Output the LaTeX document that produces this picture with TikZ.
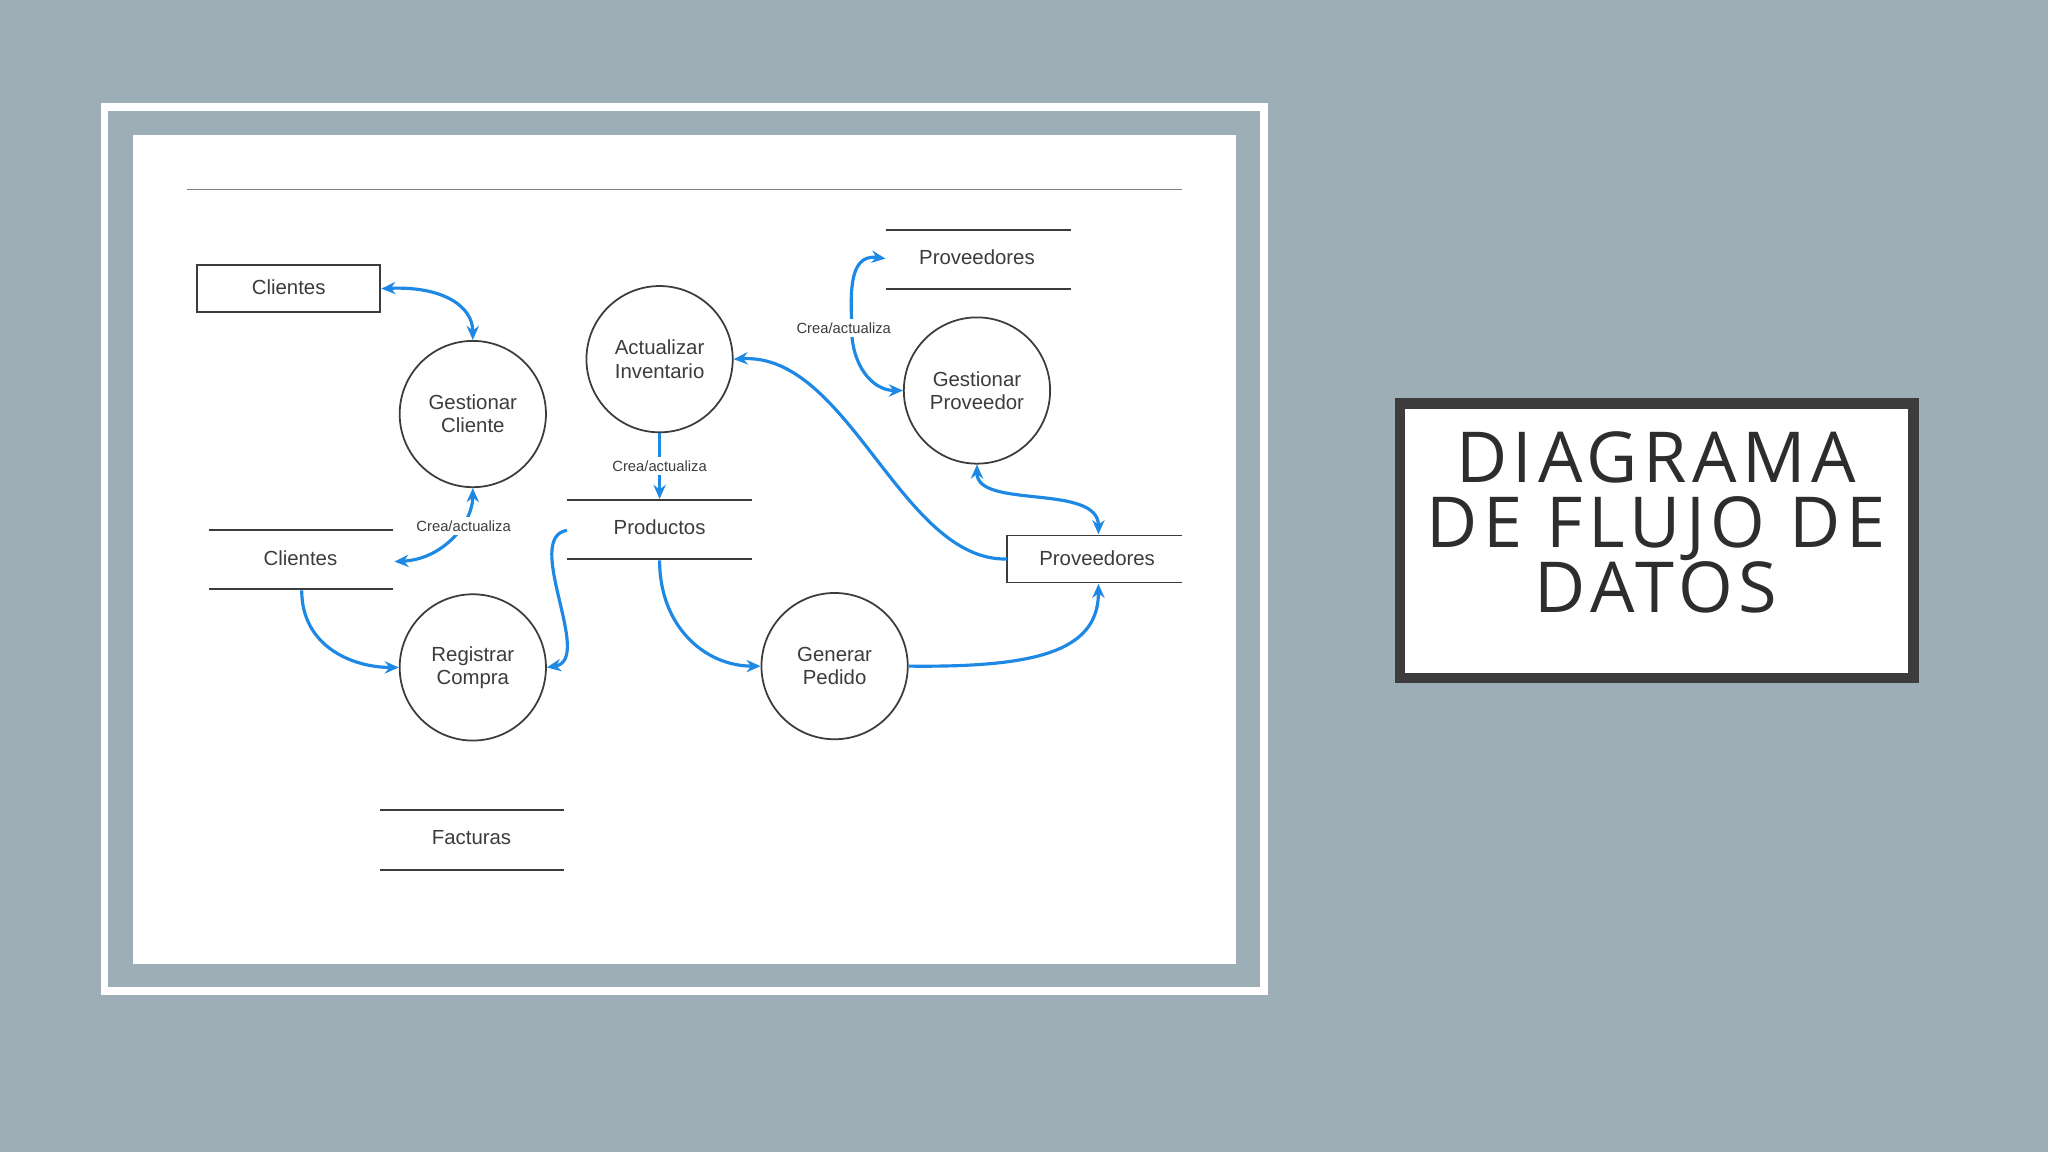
\documentclass[tikz,border=0pt]{standalone}
\usepackage{fontspec}
\setmainfont{Liberation Sans}
\newfontfamily\titlefont[LetterSpace=8]{Open Sans}
\usetikzlibrary{arrows.meta}
\definecolor{bg}{RGB}{157,174,182}
\definecolor{flow}{RGB}{30,136,229}
\definecolor{ink}{RGB}{60,60,60}
\tikzset{
 proc/.style={circle,draw=ink,line width=0.5pt,minimum size=112*0.013061cm,inner sep=0pt,align=center,font=\fontsize{5.8}{6.6}\selectfont,text=ink},
 lbl/.style={font=\fontsize{5.8}{6.6}\selectfont,text=ink},
 small/.style={font=\fontsize{4.2}{5}\selectfont,text=ink,fill=white,inner sep=1pt},
 store/.style={draw=ink,line width=0.5pt},
 fl/.style={draw=flow,line width=0.9pt,-{Stealth[length=4pt,width=3.5pt]}},
 fl2/.style={draw=flow,line width=0.9pt,{Stealth[length=4pt,width=3.5pt]}-{Stealth[length=4pt,width=3.5pt]}}
}
\begin{document}
\begin{tikzpicture}[x=0.013061cm,y=-0.013061cm]
\fill[bg] (0,0) rectangle (1568,882);
\useasboundingbox (0,0) rectangle (1568,882);
\draw[white,line width=2.2pt] (80,82) rectangle (968,759);
\fill[white] (102,103) rectangle (946,738);
\draw[gray,line width=0.5pt] (143,145) -- (905,145);
% nodes
\draw[store] (151,203) rectangle (291,239);
\node[lbl] (cbox) at (221,220) {Clientes};
\coordinate (cboxR) at (292,221);
\node[proc] (gc) at (362,317) {Gestionar\\Cliente};
\node[proc] (ai) at (505,275) {Actualizar\\Inventario};
\node[proc] (gp) at (748,299) {Gestionar\\Proveedor};
\node[proc] (rc) at (362,511) {Registrar\\Compra};
\node[proc] (gpe) at (639,510) {Generar\\Pedido};
\draw[store] (678,176) -- (820,176) (678,221) -- (820,221);
\node[lbl] (pstore) at (748,197) {Proveedores};
\draw[store] (160,406) -- (301,406) (160,451) -- (301,451);
\node[lbl] (cstore) at (230,427) {Clientes};
\draw[store] (434,383) -- (576,383) (434,428) -- (576,428);
\node[lbl] (prod) at (505,404) {Productos};
\draw[store] (291,620) -- (432,620) (291,666) -- (432,666);
\node[lbl] (fac) at (361,641) {Facturas};
\draw[store] (905,410) -- (771,410) -- (771,446) -- (905,446);
\node[lbl] (pbox) at (840,427) {Proveedores};
% connector anchors
\coordinate (cstoreR) at (302,430);
\coordinate (cstoreB) at (231,452);
\coordinate (prodT) at (505,382);
\coordinate (prodL) at (434,406);
\coordinate (prodB) at (505,429);
\coordinate (facT) at (362,619);
\coordinate (pboxL) at (771,428);
\coordinate (pboxT) at (841,409);
\coordinate (pboxB) at (841,447);
\coordinate (pstoreL) at (678,198);
% flows
\draw[fl2] (cboxR) .. controls (340,219) and (362,235) .. (gc.north);
\draw[fl] (ai.south) -- (prodT) node[small,midway] {Crea/actualiza};
\draw[fl2] (gc.south) .. controls (362,400) and (340,428) .. (cstoreR);
\node[small] at (355,403) {Crea/actualiza};
\draw[fl] (cstoreB) .. controls (231,495) and (270,511) .. (rc.west);
\draw[fl] (prodL) .. controls (400,412) and (455,505) .. (rc.east);
\draw[fl] (prodB) .. controls (505,480) and (540,510) .. (gpe.west);
\draw[fl] (gpe.east) .. controls (790,511) and (841,500) .. (pboxB);
\draw[fl] (pboxL) .. controls (690,430) and (650,270) .. (ai.east);
\draw[fl2] (gp.south) .. controls (748,390) and (841,370) .. (pboxT);
\draw[fl2] (pstoreL) .. controls (648,194) and (652,230) .. (652,251) .. controls (652,280) and (668,299) .. (gp.west);
\node[small] at (646,251) {Crea/actualiza};
% title
\draw[draw={rgb,255:red,60;green,60;blue,60},line width=3pt,fill=white] (1072,309) rectangle (1465,519);
\node[align=center,text={rgb,255:red,45;green,45;blue,45},font=\titlefont\fontsize{20}{18.5}\selectfont] (title) at (1268,400) {DIAGRAMA\\DE FLUJO DE\\DATOS};
\end{tikzpicture}
\end{document}
